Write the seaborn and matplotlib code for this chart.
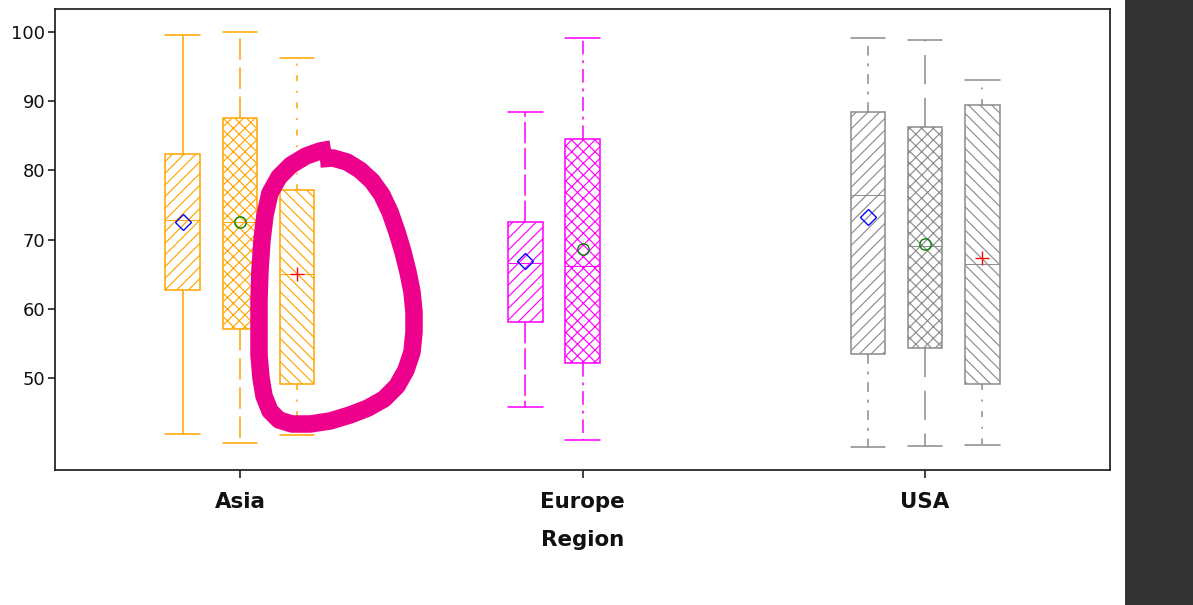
import matplotlib
matplotlib.use("Agg")
import matplotlib.pyplot as plt
from matplotlib.lines import Line2D
from matplotlib.patches import Rectangle
import numpy as np
import pandas as pd
import seaborn as sns

regions = ["Asia", "Europe", "USA"]
groups = ["Group 1", "Group 2", "Group 3"]

# one entry per box (Europe has no Group 3)
box_region = ["Asia", "Asia", "Asia", "Europe", "Europe", "USA", "USA", "USA"]
box_group = ["Group 1", "Group 2", "Group 3", "Group 1", "Group 2",
             "Group 1", "Group 2", "Group 3"]
box_min = [41.9, 40.6, 41.8, 45.8, 41.0, 40.1, 40.2, 40.3]
box_q1 = [62.7, 57.1, 49.2, 58.1, 52.2, 53.4, 54.3, 49.1]
box_median = [72.8, 72.6, 65.1, 66.6, 66.2, 76.4, 69.1, 66.5]
box_q3 = [82.4, 87.6, 77.2, 72.6, 84.6, 88.4, 86.2, 89.5]
box_max = [99.5, 100.0, 96.3, 88.5, 99.1, 99.1, 98.9, 93.1]
box_mean = [72.6, 72.5, 65.1, 66.9, 68.6, 73.3, 69.3, 67.4]

# styling
region_colors = {"Asia": "#FFA500", "Europe": "#FF00FF", "USA": "#8C8C8C"}
group_hatch = {"Group 1": "////", "Group 2": "xxxx", "Group 3": "\\\\\\\\"}
mean_colors = ["blue", "green", "red"]
whisker_styles = {
    ("Asia", "Group 1"): "-",
    ("Asia", "Group 2"): (0, (11, 4)),
    ("Asia", "Group 3"): (0, (3, 5, 1, 5)),
    ("Europe", "Group 1"): (0, (11, 2.5)),
    ("Europe", "Group 2"): (0, (7, 3, 1.5, 3)),
    ("USA", "Group 1"): (0, (5, 4, 1.5, 4)),
    ("USA", "Group 2"): (0, (15, 7)),
    ("USA", "Group 3"): (0, (3, 5, 1, 5)),
}

# hand-drawn highlight around the Asia / Group 3 box (figure pixels)
mark_x = [320, 333, 347, 360, 372, 382, 390, 397, 403, 408, 412, 414, 414,
          412, 406, 397, 384, 368, 350, 330, 310, 292, 279, 270, 264, 261,
          259, 259, 259, 260, 262, 265, 270, 279, 291, 306, 320, 331]
mark_y = [159, 158, 162, 170, 181, 195, 212, 232, 252, 272, 292, 312, 332,
          352, 370, 386, 399, 408, 415, 421, 424, 424, 420, 411, 396, 378,
          355, 330, 300, 270, 240, 215, 193, 177, 165, 156, 151, 149]

# five points per box reproduce the quartiles exactly
rows = []
for r, g, lo, a, m, b, hi in zip(box_region, box_group, box_min, box_q1,
                                 box_median, box_q3, box_max):
    for v in (lo, a, m, b, hi):
        rows.append({"Region": r, "Group": g, "Value": v})
df = pd.DataFrame(rows)
means = pd.DataFrame({"Region": box_region, "Group": box_group, "Mean": box_mean})

sns.set_style("ticks")
plt.rcParams["font.family"] = ["DejaVu Sans"]
plt.rcParams["lines.scale_dashes"] = False
plt.rcParams["hatch.linewidth"] = 0.6

W, H, DPI = 1193, 605, 140
fig = plt.figure(figsize=(W / DPI, H / DPI), dpi=DPI)
ax = fig.add_axes([55 / W, 1 - 470 / H, 1055 / W, 461 / H])

sns.boxplot(data=df, x="Region", y="Value", hue="Group", order=regions,
            hue_order=groups, width=0.5, gap=0.39, whis=(0, 100),
            showfliers=False, linewidth=0.8, legend=False, ax=ax)

for gi, cont in enumerate(ax.containers):
    g = groups[gi]
    for art in cont:
        verts = art.box.get_path().vertices
        x0, x1 = verts[:, 0].min(), verts[:, 0].max()
        r = regions[int(round((x0 + x1) / 2))]
        c = region_colors[r]
        art.box.set_facecolor("white")
        art.box.set_edgecolor(c)
        art.box.set_hatch(group_hatch[g])
        art.box.set_linewidth(0.8)
        for w in art.whiskers:
            w.set_color(c)
            w.set_linewidth(0.8)
            w.set_linestyle(whisker_styles[(r, g)])
        for cap in art.caps:
            cap.set_color(c)
            cap.set_linewidth(0.8)
            cap.set_xdata([x0, x1])
        art.median.set_color(c)
        art.median.set_linewidth(0.5)

n_before = len(ax.lines)
sns.pointplot(data=means, x="Region", y="Mean", hue="Group", order=regions,
              hue_order=groups, dodge=1 / 3, markers=["D", "o", "+"],
              linestyle="none", palette=mean_colors, errorbar=None,
              legend=False, markersize=5.8, markeredgewidth=0.7, ax=ax)
for ln in ax.lines[n_before:]:
    ln.set_markerfacecolor("none")
    ln.set_zorder(5)
    if ln.get_marker() == "+":
        ln.set_markersize(7.5)

ax.set_xlim(-0.54, 2.54)
ax.set_ylim(36.71, 103.32)
ax.set_yticks([50, 60, 70, 80, 90, 100])
ax.set_ylabel("")
ax.set_xlabel("Region", fontsize=11, fontweight="bold", color="#111111",
              labelpad=9)
ax.tick_params(axis="x", length=4, width=0.8, labelsize=11, pad=7.5,
               colors="#111111")
ax.tick_params(axis="y", length=3.5, width=0.8, labelsize=9.2, pad=1.5,
               colors="#111111")
for lab in ax.get_xticklabels():
    lab.set_fontweight("bold")
for sp in ax.spines.values():
    sp.set_visible(True)
    sp.set_linewidth(0.9)
    sp.set_color("#222222")

fig.add_artist(Line2D(np.array(mark_x) / W, 1 - np.array(mark_y) / H,
                      transform=fig.transFigure, color="#EC008C", lw=9,
                      solid_capstyle="butt", solid_joinstyle="round"))
fig.add_artist(Rectangle((1126 / W, 0), 67 / W, 1, transform=fig.transFigure,
                         color="#333333"))

fig.savefig("out.png", dpi=DPI)
